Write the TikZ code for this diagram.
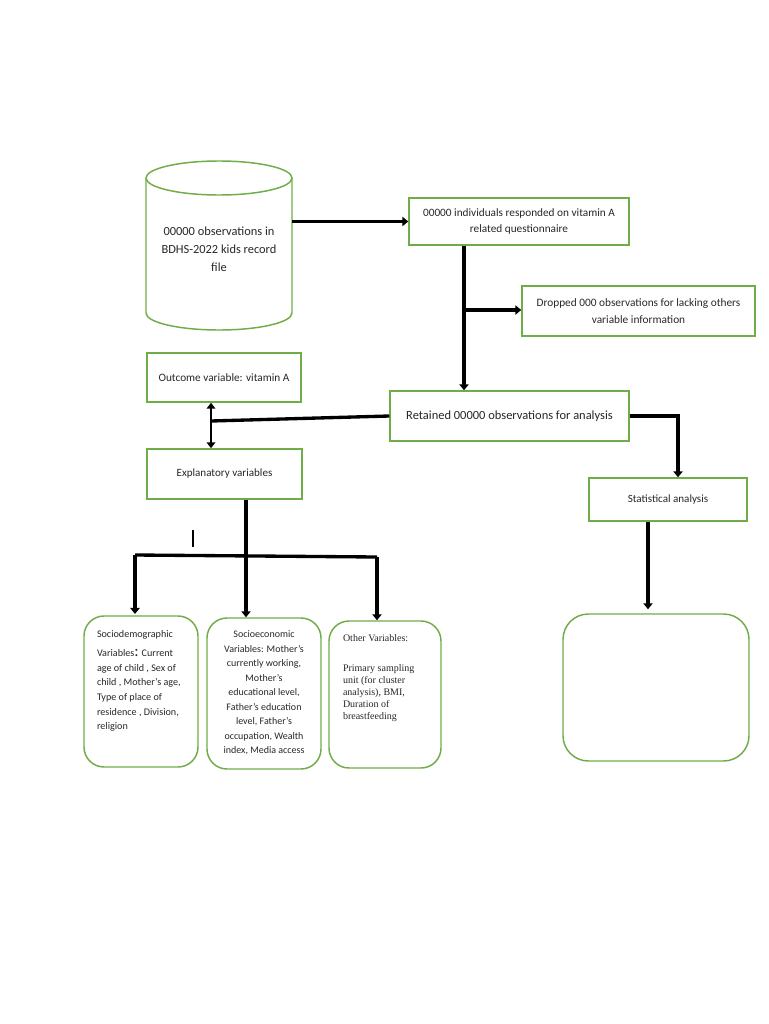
\documentclass[tikz,border=0pt]{standalone}
\usepackage{fontspec}
\setmainfont{Carlito}
\newfontfamily\tmsfont{Liberation Serif}
\usetikzlibrary{arrows.meta}
\definecolor{boxgreen}{RGB}{112,173,71}
\definecolor{txtgray}{RGB}{40,40,40}
\newcommand{\rbtext}[3]{\parbox[c][#2][t]{#1}{#3}}
\begin{document}
\begin{tikzpicture}[x=0.75pt,y=-0.75pt,
 gbox/.style={draw=boxgreen,line width=1.1pt,inner sep=0pt,align=center,fill=white,text=txtgray},
 rbox/.style={gbox,rounded corners=15pt},
 conn/.style={line width=2.5pt,black},
 arr/.style={conn,-{Triangle[width=7pt,length=4.5pt]}},
 darr/.style={conn,line width=2pt,{Triangle[width=6.5pt,length=4.5pt]}-{Triangle[width=6.5pt,length=4.5pt]}},
 cyl/.style={draw=boxgreen,line width=1.1pt,fill=white}]
\useasboundingbox (0,0) rectangle (768,1024);
\fill[white] (0,0) rectangle (768,1024);

% cylinder
\draw[cyl] (146,178) -- (146,313) arc[start angle=180,end angle=0,x radius=73,y radius=17] -- (292,178);
\draw[cyl] (219,178) ellipse [x radius=73,y radius=17];
\node[inner sep=0pt,minimum width=109.5pt,minimum height=20pt,align=center,text=txtgray,font=\fontsize{9.3}{13.5}\selectfont] (db) at (219,249)
 {00000 observations in\\BDHS-2022 kids record\\file};

% boxes
\node[gbox,minimum width=165pt,minimum height=35.25pt,font=\fontsize{8.45}{12}\selectfont] (b1) at (519,221.5)
 {00000 individuals responded on vitamin A\\related questionnaire};
\node[gbox,minimum width=174.75pt,minimum height=37.5pt,font=\fontsize{8.5}{12.5}\selectfont] (drop) at (638.5,311)
 {Dropped 000 observations for lacking others\\variable information};
\node[gbox,minimum width=179.25pt,minimum height=37.5pt,font=\fontsize{9.35}{12}\selectfont] (ret) at (509.5,416)
 {Retained 00000 observations for analysis};
\node[gbox,minimum width=115.5pt,minimum height=36.75pt,font=\fontsize{8.45}{11}\selectfont] (out) at (224,377.5)
 {Outcome variable: vitamin A};
\node[gbox,minimum width=116.25pt,minimum height=37.5pt,font=\fontsize{8.3}{11}\selectfont] (expl) at (224.5,474)
 {Explanatory variables};
\node[gbox,minimum width=118.5pt,minimum height=32.25pt,font=\fontsize{8.3}{11}\selectfont] (stat) at (668,499.5)
 {Statistical analysis};
\node[rbox,rounded corners=19pt,minimum width=139.5pt,minimum height=110.25pt] (blank) at (656,687.5) {};

\node[rbox,minimum width=85.5pt,minimum height=113.25pt] (r1) at (141,691.5)
 {\rbtext{85.5pt}{113.25pt}{\raggedright\leftskip=9.75pt\fontsize{7.6}{11}\selectfont
 \vspace*{10.5pt}Sociodemographic\par\vspace{3.5pt}
 Variables{\large:} Current\\age of child , Sex of\\child , Mother's age,\\Type of place of\\residence , Division,\\religion}};
\node[rbox,minimum width=85.5pt,minimum height=113.25pt] (r2) at (264,693.5)
 {\rbtext{85.5pt}{113.25pt}{\centering\fontsize{7.5}{10.9}\selectfont
 \vspace*{9.5pt}Socioeconomic\\Variables: Mother's\\currently working,\\Mother's\\educational level,\\Father's education\\level, Father's\\occupation, Wealth\\index, Media access\par}};
\node[rbox,minimum width=84pt,minimum height=110.25pt] (r3) at (385,694.5)
 {\rbtext{84pt}{110.25pt}{\raggedright\leftskip=10.5pt\tmsfont\fontsize{7.5}{9}\selectfont
 \vspace*{10pt}Other Variables:\par\vspace{14pt}
 Primary sampling\\unit (for cluster\\analysis), BMI,\\Duration of\\breastfeeding}};

% coordinates
\coordinate (v) at (464,310);
\coordinate (j1) at (211,421);
\coordinate (k) at (678,416);
\coordinate (m) at (648,560);
\coordinate (t) at (246,556);
\coordinate (L) at (135,555);
\coordinate (R) at (377,557);
\coordinate (i1) at (193,530);
\coordinate (i2) at (193,547);

% connectors
\draw[arr] (b1.west -| db.east) -- (b1.west);
\draw[arr] (b1.south -| v) -- (ret.north -| v);
\draw[arr] (v) -- (v -| drop.west);
\draw[conn] (ret.west) -- (j1);
\draw[darr] (out.south -| j1) -- (expl.north -| j1);
\draw[arr] (ret.east) -- (k) -- (stat.north -| k);
\draw[arr] (stat.south -| m) -- ([yshift=3pt]blank.north -| m);
\draw[arr] (expl.south -| t) -- (r2.north -| t);
\draw[conn] (L) -- (R);
\draw[arr] (L) -- ([yshift=1pt]r1.north -| L);
\draw[arr] (R) -- (r3.north -| R);
\draw[line width=1.5pt] (i1) -- (i2);
\end{tikzpicture}
\end{document}
